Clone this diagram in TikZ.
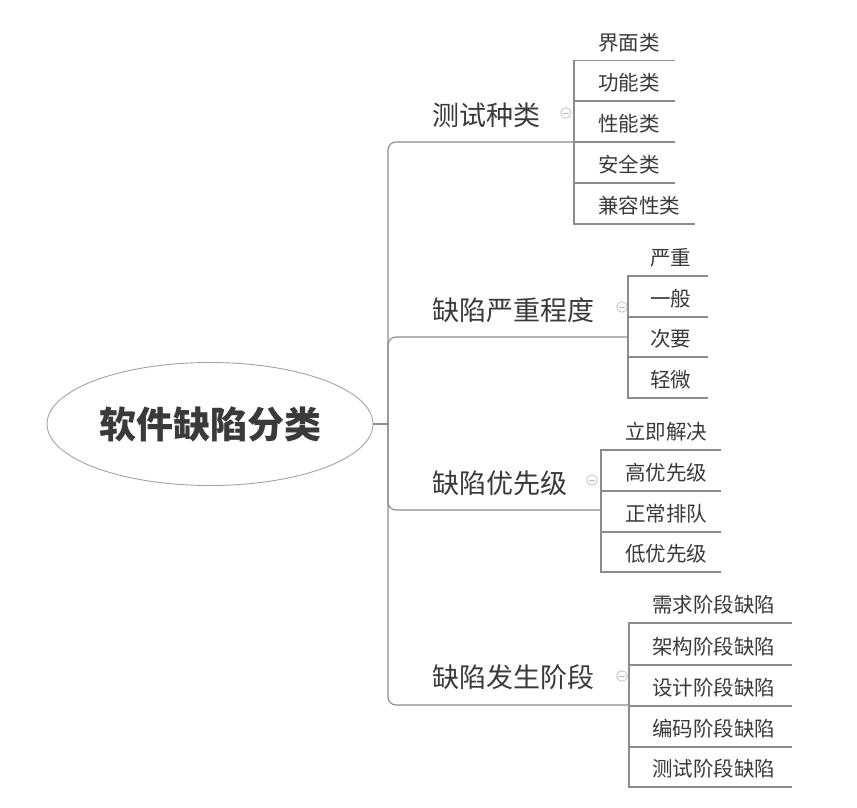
\documentclass[tikz,border=0pt]{standalone}
\usepackage{fontspec}
\newfontfamily\cjk{Noto Sans CJK SC}
\usetikzlibrary{shapes.geometric}
\definecolor{txt}{HTML}{3A3A3A}
\definecolor{ln}{HTML}{8C8C8C}
\definecolor{mk}{HTML}{B4BCCB}
\begin{document}
\begin{tikzpicture}[x=1pt,y=-1pt,
  conn/.style={draw=ln, line width=1.1pt, rounded corners=8pt},
  rootnode/.style={ellipse, draw=ln!80, line width=0.9pt, minimum width=326pt, minimum height=123pt, inner sep=0, text=txt, font=\cjk\bfseries\fontsize{37}{40}\selectfont},
  branch/.style={anchor=west, inner sep=0, text=txt, font=\cjk\fontsize{27}{30}\selectfont},
  leaf/.style={anchor=south west, inner sep=0, text width=#1, minimum height=36pt, align=left, text=txt, font=\cjk\fontsize{20.5}{23}\selectfont},
  marker/.style={circle, draw=mk, line width=0.7pt, minimum size=10.5pt, inner sep=0,
    path picture={\draw[mk, line width=0.7pt] ([xshift=2.2pt]path picture bounding box.west) -- ([xshift=-2.2pt]path picture bounding box.east);}}
]
\useasboundingbox (0,0) rectangle (857,808);
\fill[white] (0,0) rectangle (857,808);

\node[rootnode] (root) at (210,424) {软件缺陷分类};
\coordinate (t) at (388,424);
\draw[conn] (root.east) -- (t);

% branch 1
\node[branch] (b1) at (432,115) {测试种类};
\node[marker] (m1) at (566,113) {};
\coordinate (j1) at (574,142);
\draw[conn] (t) |- (j1);
\node[leaf=101pt] (a1) at (574,60.7) {\hspace*{24pt}界面类};
\node[leaf=101pt] (a2) at (574,101) {\hspace*{24pt}功能类};
\node[leaf=101pt] (a3) at (574,142) {\hspace*{24pt}性能类};
\node[leaf=101pt] (a4) at (574,183) {\hspace*{24pt}安全类};
\node[leaf=121pt] (a5) at (574,224) {\hspace*{24pt}兼容性类};
\foreach \n in {a1,a2,a3,a4,a5} \draw[conn, rounded corners=0] (j1) |- (\n.south west) -- (\n.south east);

% branch 2
\node[branch] (b2) at (432,310) {缺陷严重程度};
\node[marker] (m2) at (622,307) {};
\coordinate (j2) at (628,337);
\draw[conn] (t) |- (j2);
\node[leaf=80pt] (c1) at (628,276) {\hspace*{22pt}严重};
\node[leaf=80pt] (c2) at (628,317) {\hspace*{22pt}一般};
\node[leaf=80pt] (c3) at (628,357) {\hspace*{22pt}次要};
\node[leaf=80pt] (c4) at (628,398) {\hspace*{22pt}轻微};
\foreach \n in {c1,c2,c3,c4} \draw[conn, rounded corners=0] (j2) |- (\n.south west) -- (\n.south east);

% branch 3
\node[branch] (b3) at (432,483) {缺陷优先级};
\node[marker] (m3) at (592,480) {};
\coordinate (j3) at (601,510);
\draw[conn] (t) |- (j3);
\node[leaf=120pt] (d1) at (601,450) {\hspace*{24pt}立即解决};
\node[leaf=120pt] (d2) at (601,491) {\hspace*{24pt}高优先级};
\node[leaf=120pt] (d3) at (601,532) {\hspace*{24pt}正常排队};
\node[leaf=120pt] (d4) at (601,572) {\hspace*{24pt}低优先级};
\foreach \n in {d1,d2,d3,d4} \draw[conn, rounded corners=0] (j3) |- (\n.south west) -- (\n.south east);

% branch 4
\node[branch] (b4) at (432,677) {缺陷发生阶段};
\node[marker] (m4) at (622,676) {};
\coordinate (j4) at (629,705);
\draw[conn] (t) |- (j4);
\node[leaf=163pt] (e1) at (629,623) {\hspace*{23pt}需求阶段缺陷};
\node[leaf=163pt] (e2) at (629,665) {\hspace*{23pt}架构阶段缺陷};
\node[leaf=163pt] (e3) at (629,706) {\hspace*{23pt}设计阶段缺陷};
\node[leaf=163pt] (e4) at (629,747) {\hspace*{23pt}编码阶段缺陷};
\node[leaf=163pt] (e5) at (629,787) {\hspace*{23pt}测试阶段缺陷};
\foreach \n in {e1,e2,e3,e4,e5} \draw[conn, rounded corners=0] (j4) |- (\n.south west) -- (\n.south east);
\end{tikzpicture}
\end{document}
